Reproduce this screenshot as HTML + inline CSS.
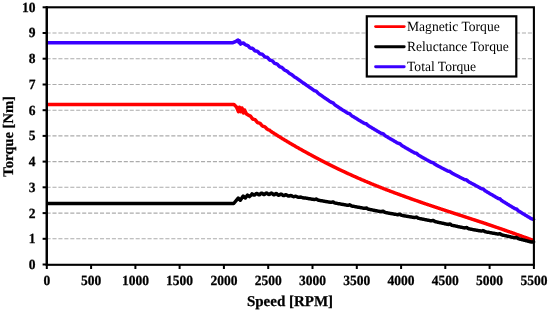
<!DOCTYPE html><html><head><meta charset="utf-8"><title>Torque vs Speed</title><style>html,body{margin:0;padding:0;background:#fff}svg{display:block}text{font-family:"Liberation Serif","Times New Roman",serif;fill:#000;text-rendering:geometricPrecision}.b{font-weight:bold;stroke:#000;stroke-width:0.25px}</style></head><body>
<svg width="550" height="313" viewBox="0 0 550 313">
<rect width="550" height="313" fill="#fff"/>
<line x1="46.5" x2="533.9" y1="238.8" y2="238.8" stroke="#acacac" stroke-width="1.1" stroke-dasharray="4.1 1.8425"/>
<line x1="46.5" x2="533.9" y1="213.1" y2="213.1" stroke="#acacac" stroke-width="1.1" stroke-dasharray="4.1 1.8425"/>
<line x1="46.5" x2="533.9" y1="187.3" y2="187.3" stroke="#acacac" stroke-width="1.1" stroke-dasharray="4.1 1.8425"/>
<line x1="46.5" x2="533.9" y1="161.6" y2="161.6" stroke="#acacac" stroke-width="1.1" stroke-dasharray="4.1 1.8425"/>
<line x1="46.5" x2="533.9" y1="135.9" y2="135.9" stroke="#acacac" stroke-width="1.1" stroke-dasharray="4.1 1.8425"/>
<line x1="46.5" x2="533.9" y1="110.2" y2="110.2" stroke="#acacac" stroke-width="1.1" stroke-dasharray="4.1 1.8425"/>
<line x1="46.5" x2="533.9" y1="84.5" y2="84.5" stroke="#acacac" stroke-width="1.1" stroke-dasharray="4.1 1.8425"/>
<line x1="46.5" x2="533.9" y1="58.7" y2="58.7" stroke="#acacac" stroke-width="1.1" stroke-dasharray="4.1 1.8425"/>
<line x1="46.5" x2="533.9" y1="33.0" y2="33.0" stroke="#acacac" stroke-width="1.1" stroke-dasharray="4.1 1.8425"/>
<path d="M46.8,104.5 L234.0,104.6 L236.5,107.0 L238.5,111.7 L239.5,107.3 L240.8,111.7 L242.0,108.0 L243.5,113.0 L244.5,110.0 L246.5,114.0 L249.0,115.5 L249.5,115.6 L250.0,115.8 L250.5,116.2 L251.0,116.8 L251.5,117.5 L252.0,118.2 L252.5,118.8 L253.0,119.2 L253.5,119.3 L254.0,119.4 L254.5,119.5 L255.0,119.7 L255.5,120.1 L256.0,120.7 L256.5,121.4 L257.0,122.0 L257.5,122.5 L258.0,122.8 L258.5,122.9 L259.0,123.0 L259.5,123.1 L260.0,123.3 L260.5,123.8 L261.0,124.4 L261.5,125.0 L262.0,125.6 L262.5,126.0 L263.0,126.3 L263.5,126.4 L264.0,126.5 L264.5,126.7 L265.0,127.0 L265.5,127.4 L266.0,128.0 L266.5,128.5 L267.0,129.0 L267.5,129.3 L268.0,129.6 L268.5,129.8 L269.0,130.0 L269.5,130.2 L270.0,130.6 L270.5,131.0 L271.0,131.4 L271.5,131.8 L272.0,132.1 L272.5,132.5 L273.0,132.7 L273.5,133.0 L274.0,133.3 L274.5,133.7 L275.0,134.0 L275.5,134.3 L276.0,134.6 L276.5,135.0 L277.0,135.3 L277.5,135.6 L278.0,135.9 L278.5,136.2 L279.0,136.5 L279.5,136.8 L280.0,137.1 L280.5,137.5 L281.0,137.8 L281.5,138.1 L282.0,138.4 L282.5,138.7 L283.0,139.0 L283.5,139.3 L284.0,139.6 L284.5,139.9 L285.0,140.2 L285.5,140.5 L286.0,140.8 L286.5,141.1 L287.0,141.4 L287.5,141.7 L288.0,142.0 L288.5,142.3 L289.0,142.6 L289.5,142.9 L290.0,143.2 L290.5,143.5 L291.0,143.8 L291.5,144.1 L292.0,144.4 L292.5,144.7 L293.0,144.9 L293.5,145.2 L294.0,145.5 L294.5,145.8 L295.0,146.1 L295.5,146.4 L296.0,146.7 L296.5,147.0 L297.0,147.3 L297.5,147.5 L298.0,147.8 L298.5,148.1 L299.0,148.4 L299.5,148.7 L300.0,149.0 L300.5,149.2 L301.0,149.5 L301.5,149.8 L302.0,150.1 L302.5,150.4 L303.0,150.6 L303.5,150.9 L304.0,151.2 L304.5,151.5 L305.0,151.7 L305.5,152.0 L306.0,152.3 L306.5,152.6 L307.0,152.8 L307.5,153.1 L308.0,153.4 L308.5,153.7 L309.0,153.9 L309.5,154.2 L310.0,154.5 L310.5,154.7 L311.0,155.0 L311.5,155.3 L312.0,155.6 L312.5,155.8 L313.0,156.1 L313.5,156.4 L314.0,156.6 L314.5,156.9 L315.0,157.2 L315.5,157.4 L316.0,157.7 L316.5,158.0 L317.0,158.2 L317.5,158.5 L318.0,158.7 L318.5,159.0 L319.0,159.3 L319.5,159.5 L320.0,159.8 L320.5,160.1 L321.0,160.3 L321.5,160.6 L322.0,160.8 L322.5,161.1 L323.0,161.4 L323.5,161.6 L324.0,161.9 L324.5,162.1 L325.0,162.4 L325.5,162.7 L326.0,162.9 L326.5,163.2 L327.0,163.4 L327.5,163.7 L328.0,163.9 L328.5,164.2 L329.0,164.4 L329.5,164.7 L330.0,164.9 L330.5,165.2 L331.0,165.4 L331.5,165.7 L332.0,165.9 L332.5,166.2 L333.0,166.4 L333.5,166.7 L334.0,166.9 L334.5,167.2 L335.0,167.4 L335.5,167.6 L336.0,167.9 L336.5,168.1 L337.0,168.4 L337.5,168.6 L338.0,168.9 L338.5,169.1 L339.0,169.3 L339.5,169.6 L340.0,169.8 L340.5,170.0 L341.0,170.3 L341.5,170.5 L342.0,170.8 L342.5,171.0 L343.0,171.2 L343.5,171.5 L344.0,171.7 L344.5,171.9 L345.0,172.2 L345.5,172.4 L346.0,172.6 L346.5,172.9 L347.0,173.1 L347.5,173.3 L348.0,173.6 L348.5,173.8 L349.0,174.0 L349.5,174.2 L350.0,174.5 L350.5,174.7 L351.0,174.9 L351.5,175.1 L352.0,175.4 L352.5,175.6 L353.0,175.8 L353.5,176.0 L354.0,176.3 L354.5,176.5 L355.0,176.7 L355.5,176.9 L356.0,177.2 L356.5,177.4 L357.0,177.6 L357.5,177.8 L358.0,178.0 L358.5,178.3 L359.0,178.5 L359.5,178.7 L360.0,178.9 L360.5,179.1 L361.0,179.3 L361.5,179.6 L362.0,179.8 L362.5,180.0 L363.0,180.2 L363.5,180.4 L364.0,180.6 L364.5,180.8 L365.0,181.1 L365.5,181.3 L366.0,181.5 L366.5,181.7 L367.0,181.9 L367.5,182.1 L368.0,182.3 L368.5,182.5 L369.0,182.7 L369.5,182.9 L370.0,183.2 L370.5,183.4 L371.0,183.6 L371.5,183.8 L372.0,184.0 L372.5,184.2 L373.0,184.4 L373.5,184.6 L374.0,184.8 L374.5,185.0 L375.0,185.2 L375.5,185.4 L376.0,185.6 L376.5,185.8 L377.0,186.0 L377.5,186.2 L378.0,186.4 L378.5,186.6 L379.0,186.8 L379.5,187.0 L380.0,187.2 L380.5,187.4 L381.0,187.6 L381.5,187.8 L382.0,188.0 L382.5,188.2 L383.0,188.4 L383.5,188.6 L384.0,188.8 L384.5,189.0 L385.0,189.2 L385.5,189.4 L386.0,189.6 L386.5,189.8 L387.0,189.9 L387.5,190.1 L388.0,190.3 L388.5,190.5 L389.0,190.7 L389.5,190.9 L390.0,191.1 L390.5,191.3 L391.0,191.5 L391.5,191.6 L392.0,191.8 L392.5,192.0 L393.0,192.2 L393.5,192.4 L394.0,192.6 L394.5,192.8 L395.0,193.0 L395.5,193.1 L396.0,193.3 L396.5,193.5 L397.0,193.7 L397.5,193.9 L398.0,194.1 L398.5,194.2 L399.0,194.4 L399.5,194.6 L400.0,194.8 L400.5,195.0 L401.0,195.1 L401.5,195.3 L402.0,195.5 L402.5,195.7 L403.0,195.9 L403.5,196.1 L404.0,196.2 L404.5,196.4 L405.0,196.6 L405.5,196.8 L406.0,197.0 L406.5,197.1 L407.0,197.3 L407.5,197.5 L408.0,197.7 L408.5,197.9 L409.0,198.0 L409.5,198.2 L410.0,198.4 L410.5,198.6 L411.0,198.8 L411.5,198.9 L412.0,199.1 L412.5,199.3 L413.0,199.5 L413.5,199.6 L414.0,199.8 L414.5,200.0 L415.0,200.2 L415.5,200.3 L416.0,200.5 L416.5,200.7 L417.0,200.9 L417.5,201.0 L418.0,201.2 L418.5,201.4 L419.0,201.6 L419.5,201.7 L420.0,201.9 L420.5,202.1 L421.0,202.3 L421.5,202.4 L422.0,202.6 L422.5,202.8 L423.0,203.0 L423.5,203.1 L424.0,203.3 L424.5,203.5 L425.0,203.6 L425.5,203.8 L426.0,204.0 L426.5,204.2 L427.0,204.3 L427.5,204.5 L428.0,204.7 L428.5,204.8 L429.0,205.0 L429.5,205.2 L430.0,205.3 L430.5,205.5 L431.0,205.7 L431.5,205.9 L432.0,206.0 L432.5,206.2 L433.0,206.4 L433.5,206.5 L434.0,206.7 L434.5,206.9 L435.0,207.0 L435.5,207.2 L436.0,207.4 L436.5,207.5 L437.0,207.7 L437.5,207.9 L438.0,208.0 L438.5,208.2 L439.0,208.3 L439.5,208.5 L440.0,208.7 L440.5,208.8 L441.0,209.0 L441.5,209.2 L442.0,209.3 L442.5,209.5 L443.0,209.7 L443.5,209.8 L444.0,210.0 L444.5,210.1 L445.0,210.3 L445.5,210.5 L446.0,210.6 L446.5,210.8 L447.0,211.0 L447.5,211.1 L448.0,211.3 L448.5,211.5 L449.0,211.6 L449.5,211.8 L450.0,211.9 L450.5,212.1 L451.0,212.3 L451.5,212.4 L452.0,212.6 L452.5,212.8 L453.0,212.9 L453.5,213.1 L454.0,213.3 L454.5,213.4 L455.0,213.6 L455.5,213.8 L456.0,213.9 L456.5,214.1 L457.0,214.2 L457.5,214.4 L458.0,214.6 L458.5,214.7 L459.0,214.9 L459.5,215.1 L460.0,215.2 L460.5,215.4 L461.0,215.5 L461.5,215.7 L462.0,215.9 L462.5,216.0 L463.0,216.2 L463.5,216.4 L464.0,216.5 L464.5,216.7 L465.0,216.8 L465.5,217.0 L466.0,217.2 L466.5,217.3 L467.0,217.5 L467.5,217.7 L468.0,217.8 L468.5,218.0 L469.0,218.2 L469.5,218.3 L470.0,218.5 L470.5,218.6 L471.0,218.8 L471.5,219.0 L472.0,219.1 L472.5,219.3 L473.0,219.5 L473.5,219.6 L474.0,219.8 L474.5,219.9 L475.0,220.1 L475.5,220.3 L476.0,220.4 L476.5,220.6 L477.0,220.8 L477.5,220.9 L478.0,221.1 L478.5,221.3 L479.0,221.4 L479.5,221.6 L480.0,221.8 L480.5,221.9 L481.0,222.1 L481.5,222.2 L482.0,222.4 L482.5,222.6 L483.0,222.7 L483.5,222.9 L484.0,223.1 L484.5,223.2 L485.0,223.4 L485.5,223.6 L486.0,223.7 L486.5,223.9 L487.0,224.1 L487.5,224.3 L488.0,224.4 L488.5,224.6 L489.0,224.8 L489.5,224.9 L490.0,225.1 L490.5,225.3 L491.0,225.4 L491.5,225.6 L492.0,225.8 L492.5,225.9 L493.0,226.1 L493.5,226.3 L494.0,226.5 L494.5,226.6 L495.0,226.8 L495.5,227.0 L496.0,227.1 L496.5,227.3 L497.0,227.5 L497.5,227.7 L498.0,227.8 L498.5,228.0 L499.0,228.2 L499.5,228.4 L500.0,228.5 L500.5,228.7 L501.0,228.9 L501.5,229.0 L502.0,229.2 L502.5,229.4 L503.0,229.6 L503.5,229.7 L504.0,229.9 L504.5,230.1 L505.0,230.3 L505.5,230.4 L506.0,230.6 L506.5,230.8 L507.0,231.0 L507.5,231.1 L508.0,231.3 L508.5,231.5 L509.0,231.7 L509.5,231.8 L510.0,232.0 L510.5,232.2 L511.0,232.4 L511.5,232.5 L512.0,232.7 L512.5,232.9 L513.0,233.1 L513.5,233.2 L514.0,233.4 L514.5,233.6 L515.0,233.8 L515.5,234.0 L516.0,234.1 L516.5,234.3 L517.0,234.5 L517.5,234.7 L518.0,234.8 L518.5,235.0 L519.0,235.2 L519.5,235.4 L520.0,235.6 L520.5,235.7 L521.0,235.9 L521.5,236.1 L522.0,236.3 L522.5,236.5 L523.0,236.6 L523.5,236.8 L524.0,237.0 L524.5,237.2 L525.0,237.3 L525.5,237.5 L526.0,237.7 L526.5,237.9 L527.0,238.1 L527.5,238.3 L528.0,238.4 L528.5,238.6 L529.0,238.8 L529.5,239.0 L530.0,239.2 L530.5,239.3 L531.0,239.5 L531.5,239.7 L532.0,239.9 L532.5,240.1 L533.0,240.3 L533.5,240.4 L533.9,240.6" fill="none" stroke="#ff0000" stroke-width="3.5" stroke-linejoin="round"/>
<path d="M46.8,203.5 L233.7,203.5 L238.2,198.1 L240.3,200.2 L243.2,196.1 L245.3,198.0 L247.5,195.1 L249.5,196.6 L251.5,194.7 L252.0,193.9 L252.5,194.1 L253.0,194.5 L253.5,194.9 L254.0,195.1 L254.5,195.1 L255.0,194.7 L255.5,194.2 L256.0,193.7 L256.5,193.4 L257.0,193.4 L257.5,193.7 L258.0,194.2 L258.5,194.6 L259.0,194.8 L259.5,194.7 L260.0,194.4 L260.5,193.8 L261.0,193.4 L261.5,193.2 L262.0,193.3 L262.5,193.6 L263.0,194.1 L263.5,194.5 L264.0,194.6 L264.5,194.5 L265.0,194.1 L265.5,193.6 L266.0,193.2 L266.5,193.0 L267.0,193.2 L267.5,193.6 L268.0,194.0 L268.5,194.4 L269.0,194.5 L269.5,194.4 L270.0,194.0 L270.5,193.5 L271.0,193.2 L271.5,193.1 L272.0,193.3 L272.5,193.8 L273.0,194.3 L273.5,194.7 L274.0,194.8 L274.5,194.6 L275.0,194.2 L275.5,193.8 L276.0,193.5 L276.5,193.6 L277.0,193.9 L277.5,194.4 L278.0,194.9 L278.5,195.2 L279.0,195.2 L279.5,195.0 L280.0,194.6 L280.5,194.3 L281.0,194.1 L281.5,194.2 L282.0,194.5 L282.5,195.0 L283.0,195.4 L283.5,195.6 L284.0,195.6 L284.5,195.4 L285.0,195.1 L285.5,194.8 L286.0,194.8 L286.5,194.9 L287.0,195.2 L287.5,195.6 L288.0,195.9 L288.5,196.1 L289.0,196.1 L289.5,195.9 L290.0,195.7 L290.5,195.5 L291.0,195.5 L291.5,195.7 L292.0,196.0 L292.5,196.3 L293.0,196.5 L293.5,196.7 L294.0,196.6 L294.5,196.5 L295.0,196.4 L295.5,196.3 L296.0,196.4 L296.5,196.5 L297.0,196.8 L297.5,197.0 L298.0,197.2 L298.5,197.3 L299.0,197.3 L299.5,197.2 L300.0,197.1 L300.5,197.1 L301.0,197.2 L301.5,197.3 L302.0,197.5 L302.5,197.7 L303.0,197.8 L303.5,197.9 L304.0,197.9 L304.5,197.9 L305.0,197.9 L305.5,198.0 L306.0,198.1 L306.5,198.2 L307.0,198.3 L307.5,198.4 L308.0,198.5 L308.5,198.6 L309.0,198.7 L309.5,198.7 L310.0,198.8 L310.5,198.9 L311.0,199.0 L311.5,199.1 L312.0,199.2 L312.5,199.2 L313.0,199.3 L313.5,199.4 L314.0,199.5 L314.5,199.5 L315.0,199.5 L315.5,199.3 L316.0,199.1 L316.5,199.1 L317.0,199.5 L317.5,199.8 L318.0,200.1 L318.5,200.2 L319.0,200.3 L319.5,200.4 L320.0,200.5 L320.5,200.6 L321.0,200.7 L321.5,200.8 L322.0,200.8 L322.5,200.9 L323.0,201.0 L323.5,201.1 L324.0,201.2 L324.5,201.3 L325.0,201.4 L325.5,201.4 L326.0,201.5 L326.5,201.6 L327.0,201.7 L327.5,201.8 L328.0,201.9 L328.5,202.0 L329.0,202.0 L329.5,202.1 L330.0,202.2 L330.5,202.3 L331.0,202.3 L331.5,202.3 L332.0,202.2 L332.5,202.0 L333.0,201.9 L333.5,202.1 L334.0,202.5 L334.5,202.9 L335.0,203.0 L335.5,203.1 L336.0,203.2 L336.5,203.3 L337.0,203.4 L337.5,203.5 L338.0,203.6 L338.5,203.7 L339.0,203.8 L339.5,203.8 L340.0,203.9 L340.5,204.0 L341.0,204.1 L341.5,204.2 L342.0,204.3 L342.5,204.4 L343.0,204.5 L343.5,204.6 L344.0,204.6 L344.5,204.7 L345.0,204.8 L345.5,204.9 L346.0,205.0 L346.5,205.1 L347.0,205.2 L347.5,205.2 L348.0,205.3 L348.5,205.2 L349.0,205.0 L349.5,204.8 L350.0,204.9 L350.5,205.3 L351.0,205.7 L351.5,205.9 L352.0,206.1 L352.5,206.2 L353.0,206.2 L353.5,206.3 L354.0,206.4 L354.5,206.5 L355.0,206.6 L355.5,206.7 L356.0,206.8 L356.5,206.9 L357.0,207.0 L357.5,207.1 L358.0,207.2 L358.5,207.3 L359.0,207.3 L359.5,207.4 L360.0,207.5 L360.5,207.6 L361.0,207.7 L361.5,207.8 L362.0,207.9 L362.5,208.0 L363.0,208.1 L363.5,208.2 L364.0,208.3 L364.5,208.3 L365.0,208.3 L365.5,208.2 L366.0,208.0 L366.5,208.0 L367.0,208.3 L367.5,208.7 L368.0,209.0 L368.5,209.1 L369.0,209.3 L369.5,209.4 L370.0,209.5 L370.5,209.6 L371.0,209.7 L371.5,209.8 L372.0,209.9 L372.5,210.0 L373.0,210.1 L373.5,210.2 L374.0,210.3 L374.5,210.4 L375.0,210.5 L375.5,210.6 L376.0,210.7 L376.5,210.8 L377.0,210.9 L377.5,211.0 L378.0,211.1 L378.5,211.2 L379.0,211.3 L379.5,211.4 L380.0,211.4 L380.5,211.5 L381.0,211.6 L381.5,211.6 L382.0,211.5 L382.5,211.3 L383.0,211.2 L383.5,211.4 L384.0,211.8 L384.5,212.2 L385.0,212.4 L385.5,212.5 L386.0,212.6 L386.5,212.7 L387.0,212.8 L387.5,212.9 L388.0,213.0 L388.5,213.1 L389.0,213.2 L389.5,213.3 L390.0,213.4 L390.5,213.4 L391.0,213.5 L391.5,213.6 L392.0,213.7 L392.5,213.8 L393.0,213.9 L393.5,214.0 L394.0,214.1 L394.5,214.2 L395.0,214.2 L395.5,214.3 L396.0,214.4 L396.5,214.5 L397.0,214.6 L397.5,214.7 L398.0,214.7 L398.5,214.6 L399.0,214.4 L399.5,214.2 L400.0,214.3 L400.5,214.6 L401.0,215.0 L401.5,215.3 L402.0,215.4 L402.5,215.5 L403.0,215.6 L403.5,215.7 L404.0,215.8 L404.5,215.9 L405.0,215.9 L405.5,216.0 L406.0,216.1 L406.5,216.2 L407.0,216.3 L407.5,216.4 L408.0,216.5 L408.5,216.5 L409.0,216.6 L409.5,216.7 L410.0,216.8 L410.5,216.9 L411.0,217.0 L411.5,217.1 L412.0,217.1 L412.5,217.2 L413.0,217.3 L413.5,217.4 L414.0,217.5 L414.5,217.6 L415.0,217.5 L415.5,217.4 L416.0,217.2 L416.5,217.1 L417.0,217.4 L417.5,217.8 L418.0,218.1 L418.5,218.3 L419.0,218.4 L419.5,218.5 L420.0,218.6 L420.5,218.7 L421.0,218.8 L421.5,218.9 L422.0,219.0 L422.5,219.1 L423.0,219.2 L423.5,219.3 L424.0,219.4 L424.5,219.5 L425.0,219.6 L425.5,219.7 L426.0,219.8 L426.5,219.9 L427.0,220.0 L427.5,220.1 L428.0,220.2 L428.5,220.3 L429.0,220.4 L429.5,220.5 L430.0,220.6 L430.5,220.7 L431.0,220.8 L431.5,220.8 L432.0,220.7 L432.5,220.5 L433.0,220.4 L433.5,220.5 L434.0,220.9 L434.5,221.3 L435.0,221.6 L435.5,221.7 L436.0,221.8 L436.5,221.9 L437.0,222.0 L437.5,222.1 L438.0,222.3 L438.5,222.4 L439.0,222.5 L439.5,222.6 L440.0,222.7 L440.5,222.8 L441.0,222.9 L441.5,223.0 L442.0,223.1 L442.5,223.2 L443.0,223.3 L443.5,223.4 L444.0,223.5 L444.5,223.7 L445.0,223.8 L445.5,223.9 L446.0,224.0 L446.5,224.1 L447.0,224.2 L447.5,224.3 L448.0,224.4 L448.5,224.4 L449.0,224.2 L449.5,224.0 L450.0,224.0 L450.5,224.3 L451.0,224.8 L451.5,225.1 L452.0,225.3 L452.5,225.4 L453.0,225.5 L453.5,225.6 L454.0,225.7 L454.5,225.8 L455.0,225.9 L455.5,226.0 L456.0,226.1 L456.5,226.2 L457.0,226.3 L457.5,226.5 L458.0,226.6 L458.5,226.7 L459.0,226.8 L459.5,226.9 L460.0,227.0 L460.5,227.1 L461.0,227.2 L461.5,227.3 L462.0,227.4 L462.5,227.5 L463.0,227.6 L463.5,227.7 L464.0,227.8 L464.5,227.9 L465.0,227.9 L465.5,227.8 L466.0,227.6 L466.5,227.5 L467.0,227.7 L467.5,228.1 L468.0,228.5 L468.5,228.7 L469.0,228.8 L469.5,228.9 L470.0,229.0 L470.5,229.1 L471.0,229.2 L471.5,229.3 L472.0,229.4 L472.5,229.5 L473.0,229.6 L473.5,229.7 L474.0,229.8 L474.5,229.9 L475.0,229.9 L475.5,230.0 L476.0,230.1 L476.5,230.2 L477.0,230.3 L477.5,230.4 L478.0,230.5 L478.5,230.6 L479.0,230.7 L479.5,230.8 L480.0,230.8 L480.5,230.9 L481.0,231.0 L481.5,231.0 L482.0,231.0 L482.5,230.8 L483.0,230.6 L483.5,230.7 L484.0,231.0 L484.5,231.4 L485.0,231.6 L485.5,231.8 L486.0,231.9 L486.5,232.0 L487.0,232.1 L487.5,232.2 L488.0,232.2 L488.5,232.3 L489.0,232.4 L489.5,232.5 L490.0,232.6 L490.5,232.7 L491.0,232.8 L491.5,232.9 L492.0,233.0 L492.5,233.1 L493.0,233.2 L493.5,233.3 L494.0,233.3 L494.5,233.4 L495.0,233.5 L495.5,233.6 L496.0,233.7 L496.5,233.8 L497.0,233.9 L497.5,234.0 L498.0,234.1 L498.5,234.1 L499.0,234.0 L499.5,233.8 L500.0,233.7 L500.5,234.0 L501.0,234.4 L501.5,234.7 L502.0,234.9 L502.5,235.1 L503.0,235.2 L503.5,235.3 L504.0,235.4 L504.5,235.5 L505.0,235.6 L505.5,235.7 L506.0,235.8 L506.5,235.9 L507.0,236.1 L507.5,236.2 L508.0,236.3 L508.5,236.4 L509.0,236.5 L509.5,236.6 L510.0,236.7 L510.5,236.8 L511.0,237.0 L511.5,237.1 L512.0,237.2 L512.5,237.3 L513.0,237.4 L513.5,237.5 L514.0,237.7 L514.5,237.8 L515.0,237.8 L515.5,237.8 L516.0,237.6 L516.5,237.5 L517.0,237.6 L517.5,238.0 L518.0,238.4 L518.5,238.7 L519.0,238.9 L519.5,239.0 L520.0,239.1 L520.5,239.3 L521.0,239.4 L521.5,239.5 L522.0,239.6 L522.5,239.8 L523.0,239.9 L523.5,240.0 L524.0,240.1 L524.5,240.3 L525.0,240.4 L525.5,240.5 L526.0,240.7 L526.5,240.8 L527.0,240.9 L527.5,241.0 L528.0,241.2 L528.5,241.3 L529.0,241.4 L529.5,241.6 L530.0,241.7 L530.5,241.8 L531.0,242.0 L531.5,242.1 L532.0,242.1 L532.5,242.0 L533.0,241.8 L533.5,241.8 L533.9,242.8" fill="none" stroke="#000" stroke-width="3.5" stroke-linejoin="round"/>
<path d="M46.8,42.7 L233.0,42.7 L236.0,41.3 L238.0,40.1 L239.0,42.6 L239.6,40.9 L240.6,44.1 L242.0,43.3 L243.5,42.9 L245.0,44.5 L246.5,45.3 L247.0,45.3 L247.5,45.4 L248.0,45.7 L248.5,46.2 L249.0,46.8 L249.5,47.4 L250.0,47.8 L250.5,48.1 L251.0,48.2 L251.5,48.2 L252.0,48.2 L252.5,48.4 L253.0,48.7 L253.5,49.2 L254.0,49.8 L254.5,50.4 L255.0,50.8 L255.5,51.0 L256.0,51.1 L256.5,51.1 L257.0,51.2 L257.5,51.4 L258.0,51.7 L258.5,52.3 L259.0,52.9 L259.5,53.4 L260.0,53.8 L260.5,54.0 L261.0,54.1 L261.5,54.1 L262.0,54.2 L262.5,54.4 L263.0,54.9 L263.5,55.4 L264.0,56.0 L264.5,56.6 L265.0,56.9 L265.5,57.1 L266.0,57.2 L266.5,57.2 L267.0,57.3 L267.5,57.6 L268.0,58.1 L268.5,58.7 L269.0,59.3 L269.5,59.8 L270.0,60.2 L270.5,60.3 L271.0,60.4 L271.5,60.5 L272.0,60.6 L272.5,61.0 L273.0,61.5 L273.5,62.1 L274.0,62.7 L274.5,63.2 L275.0,63.5 L275.5,63.7 L276.0,63.7 L276.5,63.8 L277.0,64.0 L277.5,64.4 L278.0,65.0 L278.5,65.6 L279.0,66.1 L279.5,66.6 L280.0,66.9 L280.5,67.0 L281.0,67.1 L281.5,67.3 L282.0,67.6 L282.5,68.0 L283.0,68.5 L283.5,69.1 L284.0,69.6 L284.5,70.0 L285.0,70.3 L285.5,70.5 L286.0,70.6 L286.5,70.9 L287.0,71.2 L287.5,71.6 L288.0,72.1 L288.5,72.6 L289.0,73.0 L289.5,73.4 L290.0,73.7 L290.5,73.9 L291.0,74.2 L291.5,74.5 L292.0,74.8 L292.5,75.2 L293.0,75.7 L293.5,76.1 L294.0,76.5 L294.5,76.9 L295.0,77.2 L295.5,77.5 L296.0,77.8 L296.5,78.1 L297.0,78.5 L297.5,78.8 L298.0,79.2 L298.5,79.6 L299.0,79.9 L299.5,80.3 L300.0,80.6 L300.5,81.0 L301.0,81.3 L301.5,81.7 L302.0,82.0 L302.5,82.4 L303.0,82.7 L303.5,83.1 L304.0,83.4 L304.5,83.8 L305.0,84.1 L305.5,84.5 L306.0,84.8 L306.5,85.2 L307.0,85.5 L307.5,85.8 L308.0,86.2 L308.5,86.5 L309.0,86.9 L309.5,87.2 L310.0,87.6 L310.5,87.9 L311.0,88.3 L311.5,88.6 L312.0,89.0 L312.5,89.3 L313.0,89.7 L313.5,90.0 L314.0,90.4 L314.5,90.7 L315.0,90.9 L315.5,91.0 L316.0,91.1 L316.5,91.4 L317.0,92.0 L317.5,92.6 L318.0,93.1 L318.5,93.5 L319.0,93.9 L319.5,94.2 L320.0,94.6 L320.5,94.9 L321.0,95.3 L321.5,95.6 L322.0,96.0 L322.5,96.3 L323.0,96.7 L323.5,97.0 L324.0,97.4 L324.5,97.7 L325.0,98.1 L325.5,98.4 L326.0,98.8 L326.5,99.1 L327.0,99.4 L327.5,99.8 L328.0,100.1 L328.5,100.5 L329.0,100.8 L329.5,101.2 L330.0,101.5 L330.5,101.8 L331.0,102.2 L331.5,102.4 L332.0,102.6 L332.5,102.6 L333.0,102.8 L333.5,103.3 L334.0,103.9 L334.5,104.5 L335.0,104.9 L335.5,105.2 L336.0,105.6 L336.5,105.9 L337.0,106.2 L337.5,106.6 L338.0,106.9 L338.5,107.2 L339.0,107.6 L339.5,107.9 L340.0,108.2 L340.5,108.6 L341.0,108.9 L341.5,109.2 L342.0,109.5 L342.5,109.9 L343.0,110.2 L343.5,110.5 L344.0,110.8 L344.5,111.1 L345.0,111.5 L345.5,111.8 L346.0,112.1 L346.5,112.4 L347.0,112.7 L347.5,113.0 L348.0,113.3 L348.5,113.5 L349.0,113.5 L349.5,113.6 L350.0,113.9 L350.5,114.5 L351.0,115.1 L351.5,115.5 L352.0,115.9 L352.5,116.2 L353.0,116.5 L353.5,116.8 L354.0,117.1 L354.5,117.4 L355.0,117.7 L355.5,118.0 L356.0,118.3 L356.5,118.6 L357.0,118.9 L357.5,119.2 L358.0,119.5 L358.5,119.9 L359.0,120.2 L359.5,120.5 L360.0,120.8 L360.5,121.1 L361.0,121.4 L361.5,121.7 L362.0,122.0 L362.5,122.3 L363.0,122.6 L363.5,122.9 L364.0,123.2 L364.5,123.4 L365.0,123.6 L365.5,123.7 L366.0,123.7 L366.5,123.9 L367.0,124.4 L367.5,125.0 L368.0,125.5 L368.5,125.8 L369.0,126.1 L369.5,126.4 L370.0,126.7 L370.5,127.0 L371.0,127.3 L371.5,127.6 L372.0,127.9 L372.5,128.2 L373.0,128.5 L373.5,128.8 L374.0,129.1 L374.5,129.4 L375.0,129.7 L375.5,130.0 L376.0,130.3 L376.5,130.6 L377.0,130.9 L377.5,131.2 L378.0,131.5 L378.5,131.8 L379.0,132.1 L379.5,132.4 L380.0,132.7 L380.5,132.9 L381.0,133.2 L381.5,133.5 L382.0,133.6 L382.5,133.6 L383.0,133.7 L383.5,134.1 L384.0,134.6 L384.5,135.2 L385.0,135.6 L385.5,135.9 L386.0,136.2 L386.5,136.5 L387.0,136.8 L387.5,137.1 L388.0,137.4 L388.5,137.7 L389.0,138.0 L389.5,138.3 L390.0,138.6 L390.5,138.9 L391.0,139.2 L391.5,139.4 L392.0,139.7 L392.5,140.0 L393.0,140.3 L393.5,140.6 L394.0,140.9 L394.5,141.2 L395.0,141.5 L395.5,141.8 L396.0,142.1 L396.5,142.4 L397.0,142.7 L397.5,143.0 L398.0,143.2 L398.5,143.4 L399.0,143.4 L399.5,143.5 L400.0,143.8 L400.5,144.3 L401.0,144.8 L401.5,145.3 L402.0,145.6 L402.5,145.9 L403.0,146.2 L403.5,146.5 L404.0,146.8 L404.5,147.1 L405.0,147.4 L405.5,147.7 L406.0,148.0 L406.5,148.3 L407.0,148.6 L407.5,148.8 L408.0,149.1 L408.5,149.4 L409.0,149.7 L409.5,150.0 L410.0,150.3 L410.5,150.6 L411.0,150.9 L411.5,151.2 L412.0,151.4 L412.5,151.7 L413.0,152.0 L413.5,152.3 L414.0,152.6 L414.5,152.9 L415.0,153.1 L415.5,153.1 L416.0,153.2 L416.5,153.3 L417.0,153.7 L417.5,154.3 L418.0,154.8 L418.5,155.1 L419.0,155.5 L419.5,155.7 L420.0,156.0 L420.5,156.3 L421.0,156.6 L421.5,156.9 L422.0,157.2 L422.5,157.4 L423.0,157.7 L423.5,158.0 L424.0,158.3 L424.5,158.6 L425.0,158.8 L425.5,159.1 L426.0,159.4 L426.5,159.7 L427.0,160.0 L427.5,160.2 L428.0,160.5 L428.5,160.8 L429.0,161.1 L429.5,161.3 L430.0,161.6 L430.5,161.9 L431.0,162.2 L431.5,162.4 L432.0,162.5 L432.5,162.5 L433.0,162.6 L433.5,162.9 L434.0,163.4 L434.5,163.9 L435.0,164.3 L435.5,164.6 L436.0,164.9 L436.5,165.1 L437.0,165.4 L437.5,165.7 L438.0,165.9 L438.5,166.2 L439.0,166.5 L439.5,166.7 L440.0,167.0 L440.5,167.2 L441.0,167.5 L441.5,167.8 L442.0,168.0 L442.5,168.3 L443.0,168.5 L443.5,168.8 L444.0,169.1 L444.5,169.3 L445.0,169.6 L445.5,169.8 L446.0,170.1 L446.5,170.3 L447.0,170.6 L447.5,170.9 L448.0,171.1 L448.5,171.2 L449.0,171.3 L449.5,171.3 L450.0,171.4 L450.5,171.9 L451.0,172.4 L451.5,172.8 L452.0,173.1 L452.5,173.4 L453.0,173.7 L453.5,173.9 L454.0,174.2 L454.5,174.4 L455.0,174.7 L455.5,175.0 L456.0,175.2 L456.5,175.5 L457.0,175.7 L457.5,176.0 L458.0,176.2 L458.5,176.5 L459.0,176.7 L459.5,177.0 L460.0,177.3 L460.5,177.5 L461.0,177.8 L461.5,178.0 L462.0,178.3 L462.5,178.5 L463.0,178.8 L463.5,179.1 L464.0,179.3 L464.5,179.6 L465.0,179.7 L465.5,179.8 L466.0,179.8 L466.5,179.9 L467.0,180.2 L467.5,180.8 L468.0,181.3 L468.5,181.6 L469.0,181.9 L469.5,182.2 L470.0,182.5 L470.5,182.7 L471.0,183.0 L471.5,183.3 L472.0,183.5 L472.5,183.8 L473.0,184.1 L473.5,184.3 L474.0,184.6 L474.5,184.9 L475.0,185.1 L475.5,185.4 L476.0,185.7 L476.5,186.0 L477.0,186.2 L477.5,186.5 L478.0,186.8 L478.5,187.1 L479.0,187.3 L479.5,187.6 L480.0,187.9 L480.5,188.2 L481.0,188.5 L481.5,188.7 L482.0,188.8 L482.5,188.9 L483.0,188.9 L483.5,189.2 L484.0,189.7 L484.5,190.2 L485.0,190.7 L485.5,191.0 L486.0,191.3 L486.5,191.6 L487.0,191.9 L487.5,192.2 L488.0,192.5 L488.5,192.8 L489.0,193.1 L489.5,193.4 L490.0,193.7 L490.5,194.0 L491.0,194.3 L491.5,194.5 L492.0,194.8 L492.5,195.1 L493.0,195.4 L493.5,195.7 L494.0,196.0 L494.5,196.3 L495.0,196.6 L495.5,196.9 L496.0,197.2 L496.5,197.5 L497.0,197.8 L497.5,198.1 L498.0,198.4 L498.5,198.6 L499.0,198.7 L499.5,198.7 L500.0,198.9 L500.5,199.3 L501.0,199.9 L501.5,200.4 L502.0,200.8 L502.5,201.1 L503.0,201.4 L503.5,201.7 L504.0,202.0 L504.5,202.3 L505.0,202.6 L505.5,202.9 L506.0,203.2 L506.5,203.5 L507.0,203.8 L507.5,204.2 L508.0,204.5 L508.5,204.8 L509.0,205.1 L509.5,205.4 L510.0,205.7 L510.5,206.0 L511.0,206.3 L511.5,206.6 L512.0,206.9 L512.5,207.2 L513.0,207.5 L513.5,207.8 L514.0,208.2 L514.5,208.4 L515.0,208.7 L515.5,208.9 L516.0,208.9 L516.5,209.0 L517.0,209.3 L517.5,209.9 L518.0,210.4 L518.5,210.9 L519.0,211.2 L519.5,211.5 L520.0,211.8 L520.5,212.1 L521.0,212.5 L521.5,212.8 L522.0,213.1 L522.5,213.4 L523.0,213.7 L523.5,214.0 L524.0,214.3 L524.5,214.6 L525.0,214.9 L525.5,215.2 L526.0,215.5 L526.5,215.8 L527.0,216.1 L527.5,216.4 L528.0,216.7 L528.5,217.0 L529.0,217.3 L529.5,217.6 L530.0,217.9 L530.5,218.2 L531.0,218.5 L531.5,218.8 L532.0,219.0 L532.5,219.0 L533.0,219.1 L533.5,219.3 L533.9,220.3" fill="none" stroke="#3a00ff" stroke-width="3.5" stroke-linejoin="round"/>
<rect x="46.8" y="7.3" width="487.1" height="257.5" fill="none" stroke="#000" stroke-width="2.1"/>
<line x1="46.8" x2="46.8" y1="6.3" y2="265.8" stroke="#000" stroke-width="2.2"/>
<line x1="46.8" x2="46.8" y1="264.5" y2="269.0" stroke="#000" stroke-width="2"/>
<text transform="translate(46.8,284.8) scale(0.965,1)" font-size="14" class="b" text-anchor="middle">0</text>
<line x1="91.1" x2="91.1" y1="264.5" y2="269.0" stroke="#000" stroke-width="2"/>
<text transform="translate(91.1,284.8) scale(0.965,1)" font-size="14" class="b" text-anchor="middle">500</text>
<line x1="135.4" x2="135.4" y1="264.5" y2="269.0" stroke="#000" stroke-width="2"/>
<text transform="translate(135.4,284.8) scale(0.965,1)" font-size="14" class="b" text-anchor="middle">1000</text>
<line x1="179.6" x2="179.6" y1="264.5" y2="269.0" stroke="#000" stroke-width="2"/>
<text transform="translate(179.6,284.8) scale(0.965,1)" font-size="14" class="b" text-anchor="middle">1500</text>
<line x1="223.9" x2="223.9" y1="264.5" y2="269.0" stroke="#000" stroke-width="2"/>
<text transform="translate(223.9,284.8) scale(0.965,1)" font-size="14" class="b" text-anchor="middle">2000</text>
<line x1="268.2" x2="268.2" y1="264.5" y2="269.0" stroke="#000" stroke-width="2"/>
<text transform="translate(268.2,284.8) scale(0.965,1)" font-size="14" class="b" text-anchor="middle">2500</text>
<line x1="312.5" x2="312.5" y1="264.5" y2="269.0" stroke="#000" stroke-width="2"/>
<text transform="translate(312.5,284.8) scale(0.965,1)" font-size="14" class="b" text-anchor="middle">3000</text>
<line x1="356.8" x2="356.8" y1="264.5" y2="269.0" stroke="#000" stroke-width="2"/>
<text transform="translate(356.8,284.8) scale(0.965,1)" font-size="14" class="b" text-anchor="middle">3500</text>
<line x1="401.1" x2="401.1" y1="264.5" y2="269.0" stroke="#000" stroke-width="2"/>
<text transform="translate(401.1,284.8) scale(0.965,1)" font-size="14" class="b" text-anchor="middle">4000</text>
<line x1="445.3" x2="445.3" y1="264.5" y2="269.0" stroke="#000" stroke-width="2"/>
<text transform="translate(445.3,284.8) scale(0.965,1)" font-size="14" class="b" text-anchor="middle">4500</text>
<line x1="489.6" x2="489.6" y1="264.5" y2="269.0" stroke="#000" stroke-width="2"/>
<text transform="translate(489.6,284.8) scale(0.965,1)" font-size="14" class="b" text-anchor="middle">5000</text>
<line x1="533.9" x2="533.9" y1="264.5" y2="269.0" stroke="#000" stroke-width="2"/>
<text transform="translate(533.9,284.8) scale(0.965,1)" font-size="14" class="b" text-anchor="middle">5500</text>
<line x1="42.6" x2="46.8" y1="264.5" y2="264.5" stroke="#000" stroke-width="2"/>
<text transform="translate(35.4,268.9) scale(0.965,1)" font-size="14" class="b" text-anchor="end">0</text>
<line x1="42.6" x2="46.8" y1="238.8" y2="238.8" stroke="#000" stroke-width="2"/>
<text transform="translate(35.4,243.2) scale(0.965,1)" font-size="14" class="b" text-anchor="end">1</text>
<line x1="42.6" x2="46.8" y1="213.1" y2="213.1" stroke="#000" stroke-width="2"/>
<text transform="translate(35.4,217.5) scale(0.965,1)" font-size="14" class="b" text-anchor="end">2</text>
<line x1="42.6" x2="46.8" y1="187.3" y2="187.3" stroke="#000" stroke-width="2"/>
<text transform="translate(35.4,191.7) scale(0.965,1)" font-size="14" class="b" text-anchor="end">3</text>
<line x1="42.6" x2="46.8" y1="161.6" y2="161.6" stroke="#000" stroke-width="2"/>
<text transform="translate(35.4,166.0) scale(0.965,1)" font-size="14" class="b" text-anchor="end">4</text>
<line x1="42.6" x2="46.8" y1="135.9" y2="135.9" stroke="#000" stroke-width="2"/>
<text transform="translate(35.4,140.3) scale(0.965,1)" font-size="14" class="b" text-anchor="end">5</text>
<line x1="42.6" x2="46.8" y1="110.2" y2="110.2" stroke="#000" stroke-width="2"/>
<text transform="translate(35.4,114.6) scale(0.965,1)" font-size="14" class="b" text-anchor="end">6</text>
<line x1="42.6" x2="46.8" y1="84.5" y2="84.5" stroke="#000" stroke-width="2"/>
<text transform="translate(35.4,88.9) scale(0.965,1)" font-size="14" class="b" text-anchor="end">7</text>
<line x1="42.6" x2="46.8" y1="58.7" y2="58.7" stroke="#000" stroke-width="2"/>
<text transform="translate(35.4,63.1) scale(0.965,1)" font-size="14" class="b" text-anchor="end">8</text>
<line x1="42.6" x2="46.8" y1="33.0" y2="33.0" stroke="#000" stroke-width="2"/>
<text transform="translate(35.4,37.4) scale(0.965,1)" font-size="14" class="b" text-anchor="end">9</text>
<line x1="42.6" x2="46.8" y1="7.3" y2="7.3" stroke="#000" stroke-width="2"/>
<text transform="translate(35.4,11.7) scale(0.965,1)" font-size="14" class="b" text-anchor="end">10</text>
<text x="290" y="306" font-size="15" class="b" text-anchor="middle">Speed [RPM]</text>
<text transform="translate(13.4,136.4) rotate(-90)" font-size="14.6" class="b" text-anchor="middle">Torque [Nm]</text>
<rect x="366.8" y="16.3" width="149.5" height="60.2" fill="#fff" stroke="#000" stroke-width="2.2"/>
<line x1="375.6" x2="404.2" y1="26.6" y2="26.6" stroke="#ff0000" stroke-width="2.9" stroke-linecap="round"/>
<text transform="translate(407.0,30.6) scale(0.97,1)" font-size="14">Magnetic Torque</text>
<line x1="375.6" x2="404.2" y1="46.7" y2="46.7" stroke="#000" stroke-width="2.9" stroke-linecap="round"/>
<text transform="translate(407.0,50.7) scale(0.97,1)" font-size="14">Reluctance Torque</text>
<line x1="375.6" x2="404.2" y1="66.8" y2="66.8" stroke="#3a00ff" stroke-width="2.9" stroke-linecap="round"/>
<text transform="translate(407.0,70.8) scale(0.97,1)" font-size="14">Total Torque</text>
</svg></body></html>
